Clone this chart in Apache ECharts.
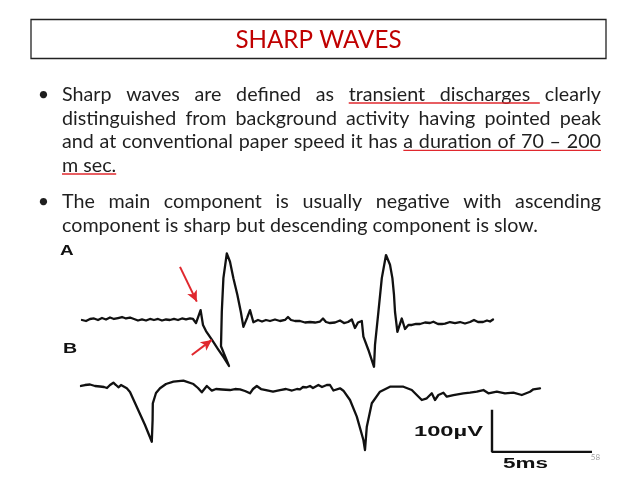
<!DOCTYPE html>
<html><head><meta charset="utf-8">
<script src="https://cdn.jsdelivr.net/npm/echarts@6/dist/echarts.min.js"></script>
<style>html,body{margin:0;padding:0;background:#fff}#c{width:638px;height:479px}</style>
</head><body><div id="c"></div>
<script>
// ---- data (time in ms, amplitude in µV) ----
const traceATime = [0.1,0.3,0.5,0.7,0.9,1.1,1.3,1.5,1.7,1.9,2.1,2.3,2.5,2.7,2.9,3.1,3.3,3.5,3.7,3.9,4.1,4.3,4.5,4.7,4.9,5.1,5.3,5.5,5.65,5.8,6.03,6.15,6.3,6.6,6.9,7.2,7.45,7.05,7.09,7.17,7.34,7.5,7.67,7.87,8.04,8.17,8.35,8.5,8.67,8.9,9.1,9.3,9.5,9.75,10.0,10.25,10.4,10.55,10.75,11.0,11.25,11.5,11.75,12.0,12.15,12.3,12.5,12.75,13.0,13.2,13.4,13.59,13.75,13.9,14.09,14.17,14.42,14.7,14.75,14.92,15.09,15.3,15.5,15.62,15.7,15.75,15.87,16.09,16.25,16.42,16.6,16.8,17.0,17.25,17.5,17.67,17.9,18.1,18.25,18.5,18.75,19.0,19.25,19.5,19.7,19.9,20.15,20.35,20.5,20.65];
const traceAVolt = [2.4,0,4.8,6,2.4,7.1,3.6,8.3,4.8,7.1,9.5,6,8.3,4.8,1.2,3.6,1.2,4.8,2.4,4.8,1.2,3.6,2.4,4.8,2.4,6,3.6,6,4.8,-4.8,26,-9.5,-24,-45,-67,-88,-107,-60,22,102,161,141,102,62,22,-14,7,26,-3,2.4,-1.2,2.4,0,3.6,0,2.4,9.5,2.4,0,0,-3.6,-2.4,-3.6,-1.2,6,-2.4,-4.8,-3.6,1.2,-4.8,-2.4,3.6,-16.7,-3.6,0,-37,-69,-109,-57,22,102,157,134,102,62,22,-26,6,-19,-9.5,-9.5,-7.1,-7.1,-3.6,-4.8,-1.7,-7.1,-7.1,-6.4,-2.4,-4.8,-2.4,-6,-2.4,2.4,-2.4,-2.4,1.2,-1.2,3.6];
const traceBTime = [0.05,0.25,0.5,0.75,1.0,1.2,1.35,1.5,1.67,1.8,1.92,2.05,2.15,2.34,2.5,2.75,3.0,3.25,3.59,3.63,3.64,3.8,4.0,4.3,4.67,5.17,5.67,5.9,6.09,6.34,6.59,6.8,7.1,7.5,7.75,8.0,8.25,8.5,8.65,8.84,9.05,9.3,9.65,10.0,10.3,10.6,10.85,11.0,11.15,11.34,11.5,11.65,11.92,12.1,12.34,12.5,12.67,12.75,13.0,13.17,13.5,13.84,14.17,14.25,14.34,14.59,15.0,15.5,16.17,16.59,16.84,17.09,17.34,17.59,17.75,17.92,18.17,18.34,18.67,19.17,19.5,19.84,20.17,20.42,20.84,21.25,21.67,22.09,22.5,22.67,23.0];
const traceBVolt = [4.8,7.1,8.3,4.8,3.6,2.4,0,7.1,12.6,7.1,1.7,7.1,4.8,-0.7,-9.5,-35.7,-61.9,-88.1,-127.9,-76.2,-36.4,-11.9,-0.7,9.5,15,17.4,9.5,0,-10.2,4.8,-6.4,-2.4,-3.6,-4.8,-2.4,-3.1,-7.1,-12.6,-2.4,4.8,-2.4,-4.8,-8.8,-4.8,-2.4,-6,-2.4,-3.1,2.4,1.7,4.8,0,7.1,2.4,7.1,7.1,-6,-8.8,-0.7,-6.4,-28.6,-68.3,-123.8,-147.6,-92.1,-36.4,-8.8,3.1,3.1,-4.8,-16.7,-28.6,-24.5,-12.6,-28.6,-16.7,-11.2,-20.7,-16.7,-12.6,-11.2,-8.8,-4.8,-12.6,-8.8,-12.6,-11.2,-16.7,-8.8,-3.1,-0.7];
const scaleBarTime = [20.6, 20.6, 25.6];
const scaleBarVolt = [-52, -152, -152];
const arrowFrom = [[5.0, 129], [5.59, -81]];
const arrowTo   = [[5.84, 46], [6.59, -45]];
const titleText = 'SHARP WAVES';
const bodyLines = [
  'Sharp waves are defined as transient discharges clearly',
  'distinguished from background activity having pointed peak',
  'and at conventional paper speed it has a duration of 70 – 200',
  'm sec.',
  'The main component is usually negative with ascending',
  'component is sharp but descending component is slow.'
];
const scaleLabels = ['100µV', '5ms'];
const pageNumber = '58';

// ---- layout helpers ----
const FONT = 'Lato';
const cv = document.createElement('canvas').getContext('2d');
function tw(t, size, weight) { cv.font = (weight || 'normal') + ' ' + size + 'px ' + FONT; return cv.measureText(t).width; }

const bodySize = 476 / tw(bodyLines[5], 100) * 100;
const titleSize = 166 / tw(titleText, 100) * 100;
const leftX = 62, rightX = 601;
const baselines = [100.5, 124.2, 147.9, 171.5, 207.8, 231.5];
const justify = [true, true, true, false, true, false];
const bullets = [0, 4];
const textColor = '#1f1f1f';
const ulColor = '#e0282e';
const midOff = 0.30 * bodySize;

const graphics = [];
graphics.push({ type: 'rect', shape: { x: 31, y: 19.5, width: 575, height: 39 }, style: { fill: 'none', stroke: '#222', lineWidth: 1.3 } });
graphics.push({ type: 'text', style: { text: titleText, x: 318.5, y: 47 - 0.3 * titleSize, font: titleSize + 'px ' + FONT, fill: '#c00000', align: 'center', textAlign: 'center', verticalAlign: 'middle', textVerticalAlign: 'middle' } });

const wordPos = [];
bodyLines.forEach((line, i) => {
  const words = line.split(' ');
  const widths = words.map(w => tw(w, bodySize));
  let gap = tw(' ', bodySize);
  if (justify[i]) gap = (rightX - leftX - widths.reduce((a, b) => a + b, 0)) / (words.length - 1);
  let x = leftX;
  const pos = [];
  words.forEach((w, k) => {
    pos.push([x, widths[k]]);
    graphics.push({ type: 'text', style: { text: w, x: x, y: baselines[i] - midOff, font: bodySize + 'px ' + FONT, fill: textColor, align: 'left', textAlign: 'left', verticalAlign: 'middle', textVerticalAlign: 'middle' } });
    x += widths[k] + gap;
  });
  wordPos.push(pos);
});
bullets.forEach(i => {
  graphics.push({ type: 'text', style: { text: '•', x: 43.5, y: baselines[i] - midOff, font: bodySize + 'px ' + FONT, fill: textColor, align: 'center', textAlign: 'center', verticalAlign: 'middle', textVerticalAlign: 'middle' } });
});
function underline(line, w0, w1, endX) {
  const p = wordPos[line];
  const x0 = p[w0][0];
  const x1 = endX !== undefined ? endX : p[w1][0] + p[w1][1];
  const y = baselines[line] + 2.5;
  graphics.push({ type: 'line', shape: { x1: x0, y1: y, x2: x1, y2: y }, style: { stroke: ulColor, lineWidth: 1.4 } });
}
underline(0, 5, 6, wordPos[0][7][0] - 5);
underline(2, 7, 12);
underline(3, 0, 1);

// trace labels and scale labels
const wideFont = 'bold 14px "Liberation Sans", Arial, sans-serif';
const scaleFont = 'bold 15px "Liberation Sans", Arial, sans-serif';
graphics.push({ type: 'text', x: 60, y: 251.5, scaleX: 1.35, style: { text: 'A', x: 0, y: 0, font: wideFont, fill: '#111', align: 'left', textAlign: 'left', verticalAlign: 'middle', textVerticalAlign: 'middle' } });
graphics.push({ type: 'text', x: 63, y: 349, scaleX: 1.4, style: { text: 'B', x: 0, y: 0, font: wideFont, fill: '#111', align: 'left', textAlign: 'left', verticalAlign: 'middle', textVerticalAlign: 'middle' } });
graphics.push({ type: 'text', x: 483, y: 432, scaleX: 1.58, style: { text: scaleLabels[0], x: 0, y: 0, font: scaleFont, fill: '#111', align: 'right', textAlign: 'right', verticalAlign: 'middle', textVerticalAlign: 'middle' } });
graphics.push({ type: 'text', x: 503, y: 463.5, scaleX: 1.5, style: { text: scaleLabels[1], x: 0, y: 0, font: scaleFont, fill: '#111', align: 'left', textAlign: 'left', verticalAlign: 'middle', textVerticalAlign: 'middle' } });
graphics.push({ type: 'text', style: { text: pageNumber, x: 595.5, y: 457, font: '8px ' + FONT, fill: '#a0a0a0', align: 'center', textAlign: 'center', verticalAlign: 'middle', textVerticalAlign: 'middle' } });

// ---- chart ----
const pxPerMs = 20, pxPerUv = 0.42;
const xMax = 26;
const gridLeft = 80;
const yA = [-210, 190], yB = [-200, 100];
const zeroA = 321, zeroB = 388;
const grids = [
  { left: gridLeft, width: xMax * pxPerMs, top: zeroA - yA[1] * pxPerUv, height: (yA[1] - yA[0]) * pxPerUv },
  { left: gridLeft, width: xMax * pxPerMs, top: zeroB - yB[1] * pxPerUv, height: (yB[1] - yB[0]) * pxPerUv }
];
const zip = (a, b) => a.map((v, i) => [v, b[i]]);
const traceStyle = { color: '#111', width: 2.3, join: 'round', cap: 'round' };

const chart = echarts.init(document.getElementById('c'), null, { renderer: 'canvas' });
chart.setOption({
  animation: false,
  backgroundColor: '#fff',
  grid: grids,
  xAxis: [0, 1].map(i => ({ type: 'value', gridIndex: i, min: 0, max: xMax, show: false })),
  yAxis: [
    { type: 'value', gridIndex: 0, min: yA[0], max: yA[1], show: false },
    { type: 'value', gridIndex: 1, min: yB[0], max: yB[1], show: false }
  ],
  series: [
    { name: 'A', type: 'line', xAxisIndex: 0, yAxisIndex: 0, data: zip(traceATime, traceAVolt), showSymbol: false, symbol: 'none', lineStyle: traceStyle, clip: false, silent: true,
      markLine: { silent: true, symbol: ['none', 'arrow'], symbolSize: [8, 11], label: { show: false }, lineStyle: { color: ulColor, width: 2, type: 'solid' },
        data: arrowFrom.map((f, i) => [{ coord: f }, { coord: arrowTo[i] }]) } },
    { name: 'B', type: 'line', xAxisIndex: 1, yAxisIndex: 1, data: zip(traceBTime, traceBVolt), showSymbol: false, symbol: 'none', lineStyle: traceStyle, clip: false, silent: true },
    { name: 'scale', type: 'line', xAxisIndex: 1, yAxisIndex: 1, data: zip(scaleBarTime, scaleBarVolt), showSymbol: false, symbol: 'none', lineStyle: { color: '#111', width: 2.4 }, clip: false, silent: true }
  ],
  graphic: graphics
});
</script></body></html>
